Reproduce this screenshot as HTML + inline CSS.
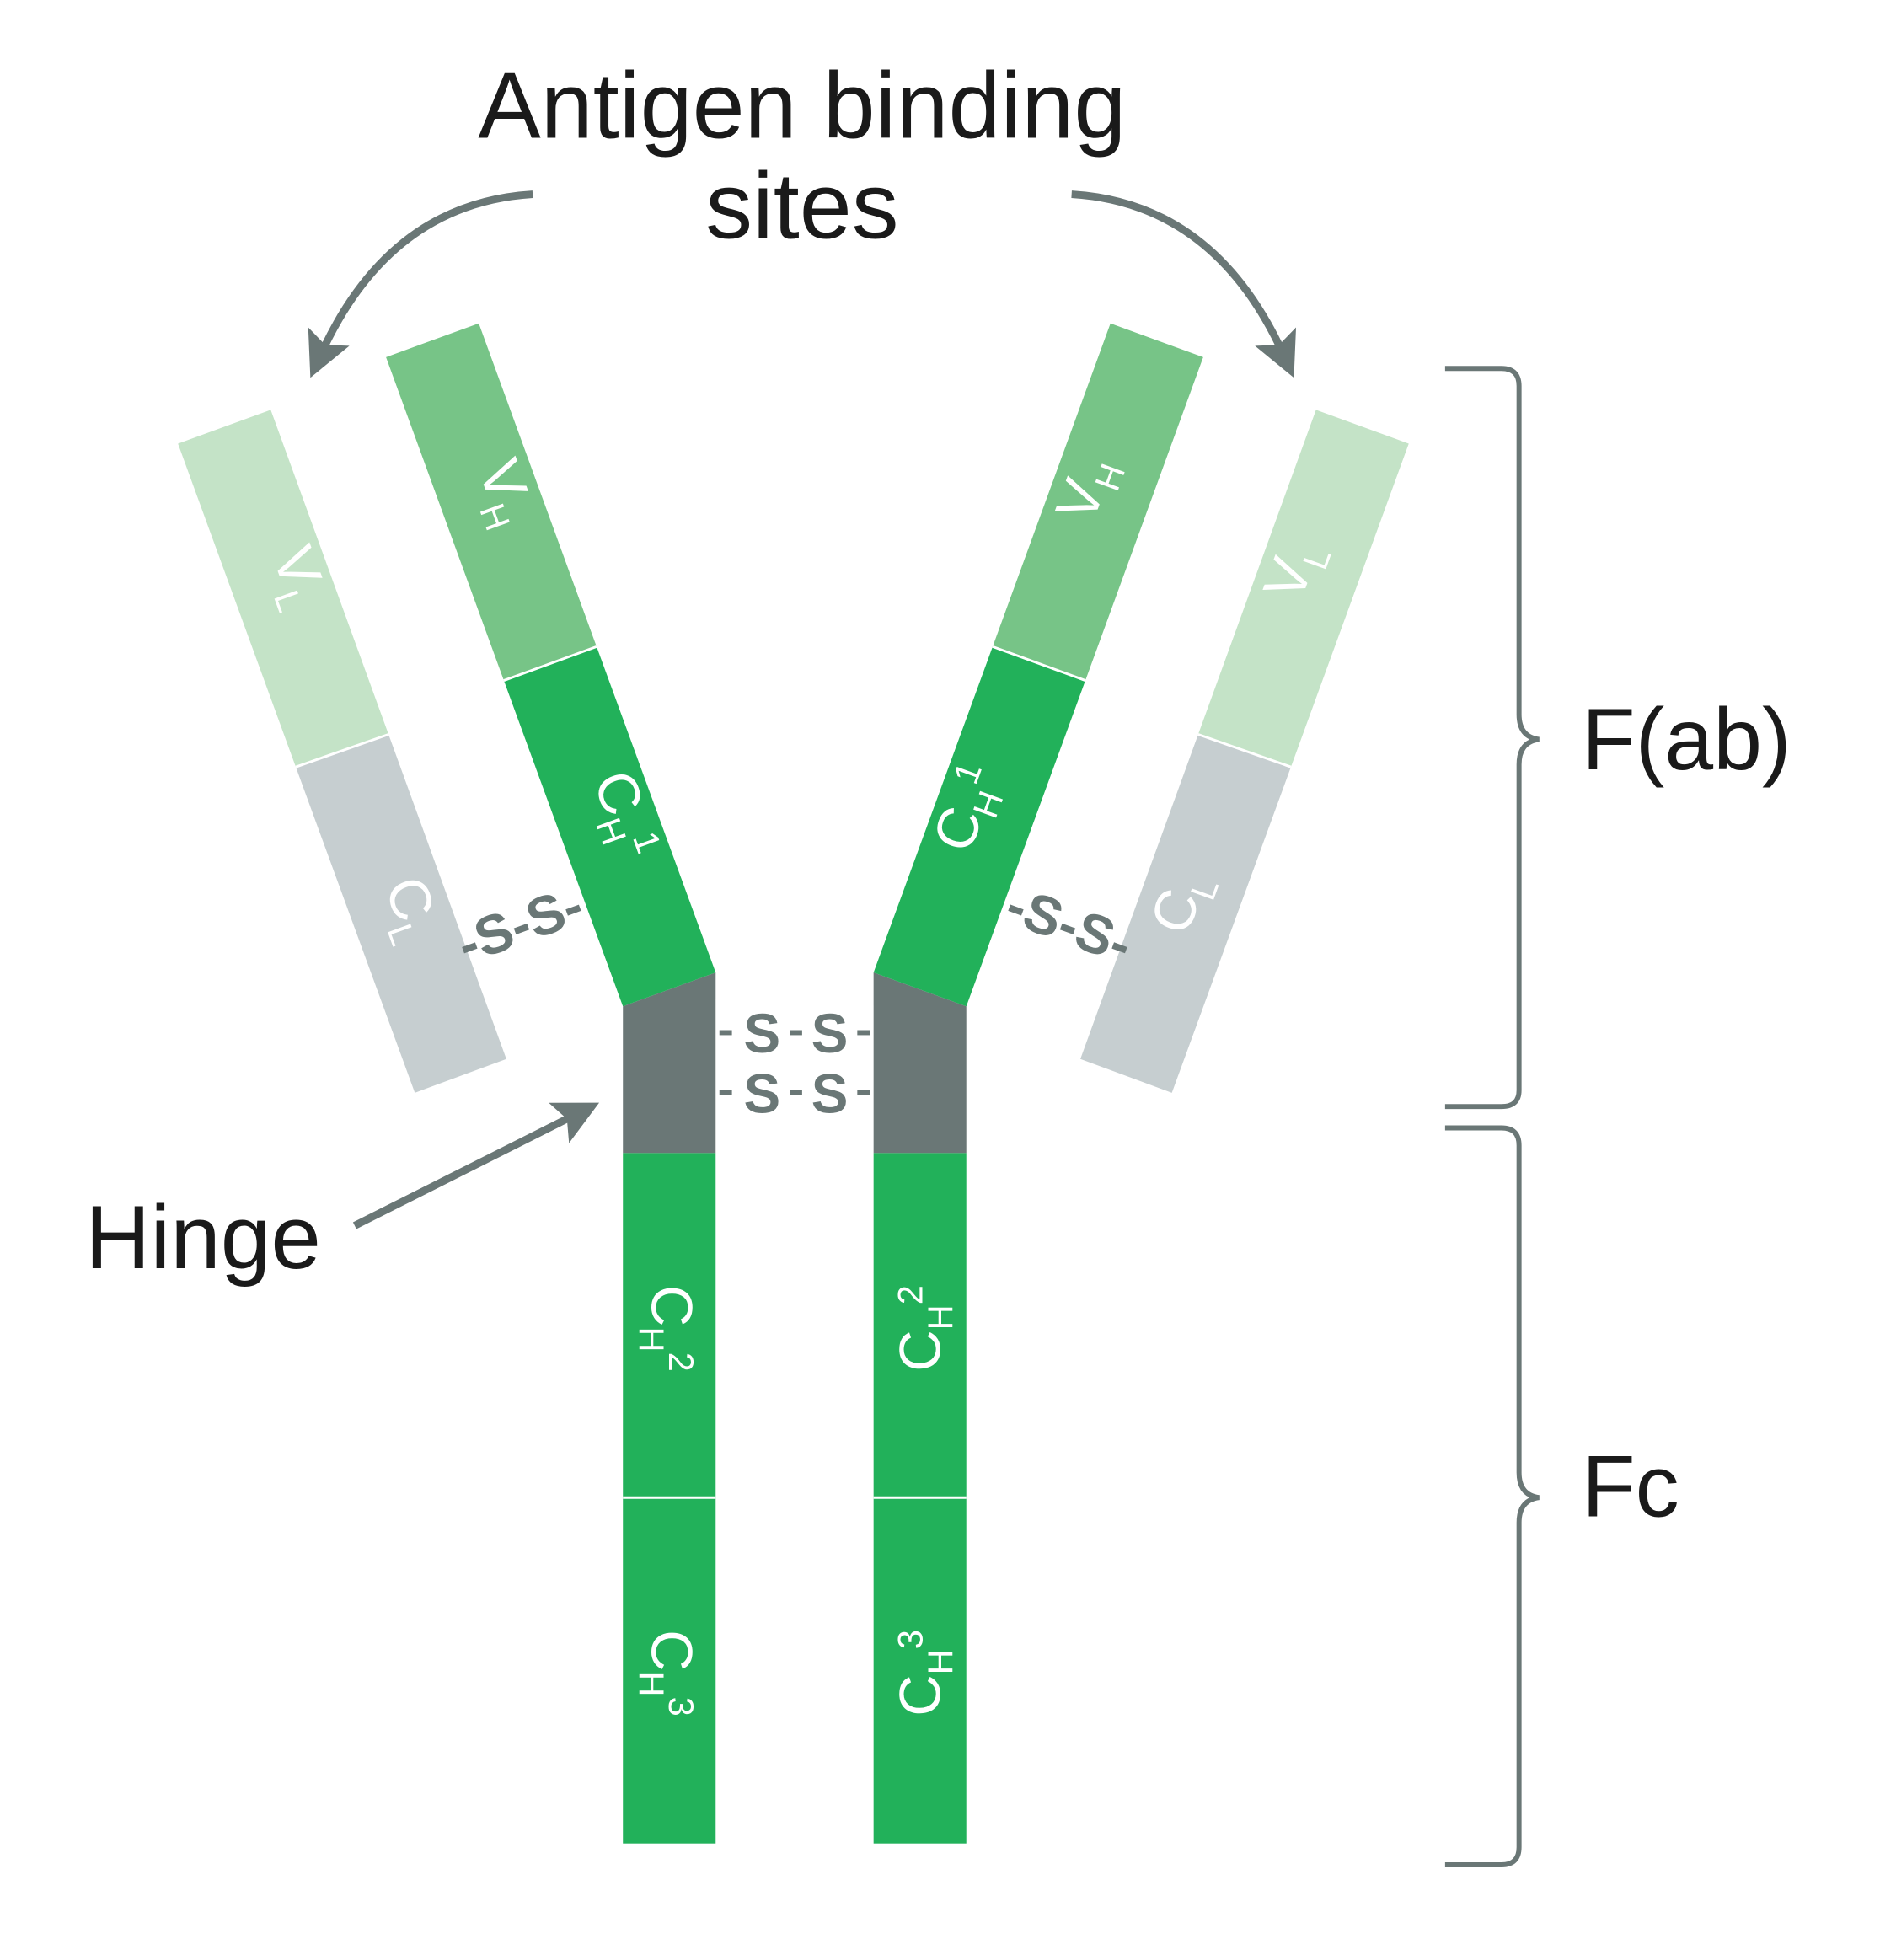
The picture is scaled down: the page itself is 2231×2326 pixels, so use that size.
<!DOCTYPE html>
<html><head><meta charset="utf-8"><style>
html,body{margin:0;padding:0;background:#fff;}
svg{display:block;}
text{font-family:"Liberation Sans",sans-serif;}
</style></head><body>
<svg width="2231" height="2326" viewBox="0 0 1500 1564" preserveAspectRatio="none" xmlns="http://www.w3.org/2000/svg">
<defs>
<marker id="ah" markerWidth="6" markerHeight="6" refX="3" refY="3" orient="auto" markerUnits="strokeWidth">
<path d="M0,0 L6,3 L0,6 L1.2,3 z" fill="#6a7776"/>
</marker>
</defs>
<rect width="1500" height="1564" fill="#fff"/>
<rect x="497" y="920" width="74" height="551" fill="#22b15a"/>
<rect x="697" y="920" width="74" height="551" fill="#22b15a"/>
<line x1="497" y1="1195" x2="571" y2="1195" stroke="#fff" stroke-width="2"/>
<line x1="697" y1="1195" x2="771" y2="1195" stroke="#fff" stroke-width="2"/>
<polygon points="497,803 571,776 571,920 497,920" fill="#6a7776"/>
<polygon points="697,776 771,803 771,920 697,920" fill="#6a7776"/>
<polygon points="497,803 571,776 476,516 402,543" fill="#22b15a"/>
<polygon points="402,543 476,516 382,258 308,285" fill="#77c487"/>
<line x1="402" y1="543" x2="476" y2="516" stroke="#fff" stroke-width="2"/>
<polygon points="771,803 697,776 792,516 866,543" fill="#22b15a"/>
<polygon points="866,543 792,516 886,258 960,285" fill="#77c487"/>
<line x1="866" y1="543" x2="792" y2="516" stroke="#fff" stroke-width="2"/>
<polygon points="142,354 216,327 310,586 236,612" fill="#c4e3c7"/>
<polygon points="236,612 310,586 404,845 331,872" fill="#c6ced0"/>
<line x1="236" y1="612" x2="310" y2="586" stroke="#fff" stroke-width="2"/>
<polygon points="1124,354 1050,327 956,586 1030,612" fill="#c4e3c7"/>
<polygon points="1030,612 956,586 862,845 935,872" fill="#c6ced0"/>
<line x1="1030" y1="612" x2="956" y2="586" stroke="#fff" stroke-width="2"/>

<g fill="#fff" font-size="46">
<text transform="translate(390,398) rotate(70)" text-anchor="middle">V<tspan font-size="28" dy="10">H</tspan></text>
<text transform="translate(485,655) rotate(70)" text-anchor="middle">C<tspan font-size="28" dy="10">H</tspan><tspan font-size="28" dy="-24">1</tspan></text>
<text transform="translate(225,465) rotate(70)" text-anchor="middle">V<tspan font-size="28" dy="10">L</tspan></text>
<text transform="translate(315,730) rotate(70)" text-anchor="middle">C<tspan font-size="28" dy="10">L</tspan></text>
<text transform="translate(880,395) rotate(-70)" text-anchor="middle">V<tspan font-size="28" dy="10">H</tspan></text>
<text transform="translate(785,650) rotate(-70)" text-anchor="middle">C<tspan font-size="28" dy="10">H</tspan><tspan font-size="28" dy="-24">1</tspan></text>
<text transform="translate(1045,460) rotate(-70)" text-anchor="middle">V<tspan font-size="28" dy="10">L</tspan></text>
<text transform="translate(955,725) rotate(-70)" text-anchor="middle">C<tspan font-size="28" dy="10">L</tspan></text>
<text transform="translate(520,1060) rotate(90)" text-anchor="middle">C<tspan font-size="28" dy="10">H</tspan><tspan font-size="28" dy="-24">2</tspan></text>
<text transform="translate(520,1335) rotate(90)" text-anchor="middle">C<tspan font-size="28" dy="10">H</tspan><tspan font-size="28" dy="-24">3</tspan></text>
<text transform="translate(750,1060) rotate(-90)" text-anchor="middle">C<tspan font-size="28" dy="10">H</tspan><tspan font-size="28" dy="-24">2</tspan></text>
<text transform="translate(750,1335) rotate(-90)" text-anchor="middle">C<tspan font-size="28" dy="10">H</tspan><tspan font-size="28" dy="-24">3</tspan></text>
</g>

<g fill="#6a7776" font-size="44" font-weight="bold">
<text transform="translate(420,752) rotate(-20)" text-anchor="middle">-S-S-</text>
<text transform="translate(848,752) rotate(20)" text-anchor="middle">-S-S-</text>
<text x="608" y="840" text-anchor="middle">S</text>
<text x="662" y="840" text-anchor="middle">S</text>
<text x="608" y="888" text-anchor="middle">S</text>
<text x="662" y="888" text-anchor="middle">S</text>
</g>
<g stroke="#6a7776" stroke-width="4">
<line x1="574" y1="824" x2="584" y2="824"/><line x1="630" y1="824" x2="640" y2="824"/><line x1="684" y1="824" x2="694" y2="824"/>
<line x1="574" y1="872" x2="584" y2="872"/><line x1="630" y1="872" x2="640" y2="872"/><line x1="684" y1="872" x2="694" y2="872"/>
</g>

<g stroke="#6a7776" stroke-width="6" fill="none">
<path d="M425,155 Q310,162 255,285" marker-end="url(#ah)"/>
<path d="M855,155 Q970,162 1025,285" marker-end="url(#ah)"/>
<path d="M283,978 L462,888" marker-end="url(#ah)"/>
<path d="M1153,294 L1198,294 Q1212,294 1212,308 L1212,570 Q1212,588 1228,590 Q1212,592 1212,610 L1212,870 Q1212,883 1198,883 L1153,883" stroke-width="4"/>
<path d="M1153,900 L1198,900 Q1212,900 1212,914 L1212,1175 Q1212,1193 1228,1195 Q1212,1197 1212,1215 L1212,1474 Q1212,1488 1198,1488 L1153,1488" stroke-width="4"/>
</g>

<g fill="#1a1a1a">
<text x="640" y="110" text-anchor="middle" font-size="75">Antigen binding</text>
<text x="640" y="190" text-anchor="middle" font-size="75">sites</text>
<text x="1262" y="614" font-size="70">F(ab)</text>
<text x="1262" y="1210" font-size="70">Fc</text>
<text x="68" y="1012" font-size="72">Hinge</text>
</g>
</svg>
</body></html>
